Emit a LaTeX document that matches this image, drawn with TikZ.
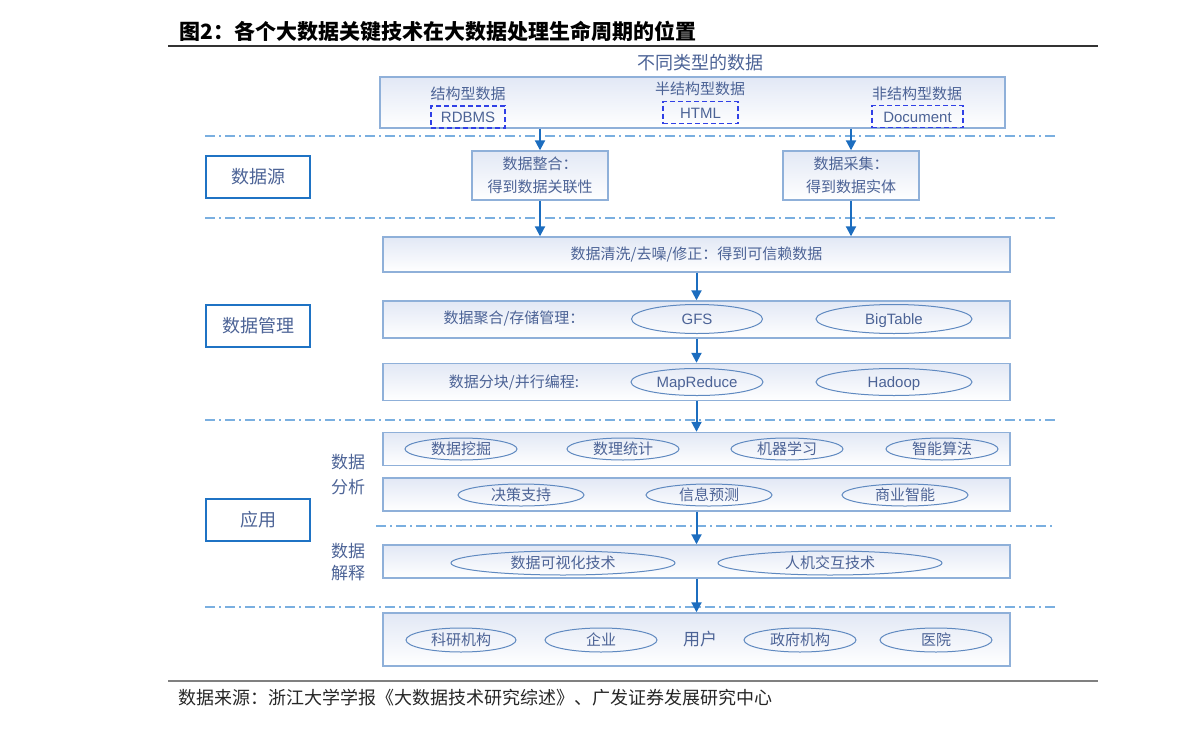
\documentclass[tikz,border=0pt]{standalone}
\usepackage{fontspec}
\usepackage{tikz}
\usetikzlibrary{shapes.geometric, arrows.meta, positioning}
\setmainfont{Liberation Sans}
\newfontfamily\cjk{Noto Sans CJK SC}
\definecolor{txtblue}{HTML}{4C6396}
\definecolor{boxline}{HTML}{8FB0D9}
\definecolor{boxtop}{HTML}{E2E8F5}
\definecolor{layerblue}{HTML}{1F73C4}
\definecolor{flowblue}{HTML}{1C6DBF}
\definecolor{sepblue}{HTML}{7AAFE0}
\definecolor{dashblue}{HTML}{3040E6}
\definecolor{ellline}{HTML}{5F89C0}

\begin{document}
\begin{tikzpicture}[x=1pt,y=-1pt,
  every node/.style={text=txtblue, font=\cjk\fontsize{15}{18}\selectfont},
  stage/.style={draw=boxline, line width=1.4pt, top color=boxtop, bottom color=white, minimum width=627pt, inner sep=0pt},
  layer/.style={draw=layerblue, line width=2pt, fill=white, minimum width=104pt, minimum height=42pt, inner sep=0pt, font=\cjk\fontsize{18}{20}\selectfont},
  tag/.style={draw=ellline, line width=1pt, ellipse, inner sep=0pt, minimum width=112pt, minimum height=22pt, text height=12pt, text depth=1pt},
  db/.style={draw=dashblue, dash pattern=on 5pt off 3pt, line width=1.2pt, minimum height=22pt, inner sep=0pt, text height=12pt, text depth=1pt, font=\fontsize{15}{18}\selectfont},
  flow/.style={draw=flowblue, line width=2pt, -{Triangle[length=10pt,width=10pt]}},
  sep/.style={draw=sepblue, line width=1.5pt, dash pattern=on 10pt off 4pt on 2pt off 4pt}]
  \useasboundingbox (0,0) rectangle (1191,728);

  % title and rules
  \node[anchor=west, text=black, font=\cjk\bfseries\fontsize{21}{24}\selectfont] (title) at (176,31) {图2：各个大数据关键技术在大数据处理生命周期的位置};
  \draw[line width=1.5pt, black!80] (168,46) -- (1098,46);
  \draw[line width=2pt, black!50] (168,681) -- (1098,681);
  \node[anchor=west, text=black!85, font=\cjk\fontsize{18}{20}\selectfont] (source) at (175,698) {数据来源：浙江大学学报《大数据技术研究综述》、广发证券发展研究中心};

  % separators
  \draw[sep] (205,136) -- (1055,136);
  \draw[sep] (205,218) -- (1055,218);
  \draw[sep] (205,420) -- (1055,420);
  \draw[sep] (376,526) -- (1055,526);
  \draw[sep] (205,607) -- (1055,607);

  % data types
  \node[font=\cjk\fontsize{18}{20}\selectfont] (typehead) at (700,63) {不同类型的数据};
  \node[stage, minimum width=625pt, minimum height=51pt] (types) at (692.5,102.5) {};
  \node (struct) at (468,94) {结构型数据};
  \node[db, minimum width=74pt] (rdbms) at (468,117) {RDBMS};
  \node (semi) at (700,89) {半结构型数据};
  \node[db, minimum width=75pt] (html) at (700.5,112.5) {HTML};
  \node (unstruct) at (917,94) {非结构型数据};
  \node[db, minimum width=91pt] (doc) at (917.5,116.5) {Document};

  % layers
  \node[layer] (src) at (258,176.5) {数据源};
  \node[layer] (mgmt) at (258,325.5) {数据管理};
  \node[layer] (app) at (258,520) {应用};

  % source stage
  \node[stage, minimum width=136pt, minimum height=49pt, align=center, font=\cjk\fontsize{15}{23}\selectfont] (integ) at (540,175.5) {数据整合：\\得到数据关联性};
  \node[stage, minimum width=136pt, minimum height=49pt, align=center, font=\cjk\fontsize{15}{23}\selectfont] (collect) at (851,175.5) {数据采集：\\得到数据实体};

  % management stage
  \node[stage, minimum height=35pt] (clean) at (696.5,254.5) {数据清洗/去噪/修正：得到可信赖数据};
  \node[stage, minimum height=37pt] (store) at (696.5,319.5) {};
  \node (storetxt) at (514,319) {数据聚合/存储管理：};
  \node[tag, minimum width=131pt, minimum height=29pt, font=\fontsize{15}{18}\selectfont] (gfs) at (697,319) {GFS};
  \node[tag, minimum width=156pt, minimum height=29pt, font=\fontsize{15}{18}\selectfont] (bigtable) at (894,319) {BigTable};
  \node[stage, minimum height=37pt] (compute) at (696.5,382) {};
  \node (computetxt) at (514,382) {数据分块/并行编程:};
  \node[tag, minimum width=132pt, minimum height=27pt, font=\fontsize{15}{18}\selectfont] (mapred) at (697,382) {MapReduce};
  \node[tag, minimum width=156pt, minimum height=27pt, font=\fontsize{15}{18}\selectfont] (hadoop) at (894,382) {Hadoop};

  % application stage
  \node[align=center, font=\cjk\fontsize{17}{25}\selectfont] (analysis) at (348,474.5) {数据\\分析};
  \node[stage, minimum height=33pt] (anaA) at (696.5,449) {};
  \node[tag] (mining) at (461,449) {数据挖掘};
  \node[tag] (stats) at (623,449) {数理统计};
  \node[tag] (ml) at (787,449) {机器学习};
  \node[tag] (algo) at (942,449) {智能算法};
  \node[stage, minimum height=33pt] (anaB) at (696.5,494.5) {};
  \node[tag, minimum width=126pt] (decision) at (521,495) {决策支持};
  \node[tag, minimum width=126pt] (predict) at (709,495) {信息预测};
  \node[tag, minimum width=126pt] (bi) at (905,495) {商业智能};
  \node[align=center, font=\cjk\fontsize{17}{22}\selectfont] (explain) at (348,562) {数据\\解释};
  \node[stage, minimum height=33pt] (interp) at (696.5,561.5) {};
  \node[tag, minimum width=224pt, minimum height=24pt] (visual) at (563,563) {数据可视化技术};
  \node[tag, minimum width=224pt, minimum height=24pt] (hci) at (830,563) {人机交互技术};

  % users
  \node[stage, minimum height=53pt] (users) at (696.5,639.5) {};
  \node[tag, minimum width=110pt, minimum height=24pt] (research) at (461,640) {科研机构};
  \node[tag, minimum height=24pt] (firm) at (601,640) {企业};
  \node[font=\cjk\fontsize{17}{20}\selectfont] (usertxt) at (700,639) {用户};
  \node[tag, minimum height=24pt] (gov) at (800,640) {政府机构};
  \node[tag, minimum height=24pt] (hospital) at (936,640) {医院};

  % flow
  \draw[flow] (integ.north |- types.south) -- (integ.north);
  \draw[flow] (collect.north |- types.south) -- (collect.north);
  \draw[flow] (integ.south) -- (integ.south |- clean.north);
  \draw[flow] (collect.south) -- (collect.south |- clean.north);
  \draw[flow] (clean.south) -- (store.north);
  \draw[flow] (store.south) -- (compute.north);
  \draw[flow] (compute.south) -- (anaA.north);
  \draw[flow] (anaB.south) -- (interp.north);
  \draw[flow] (interp.south) -- (users.north);
\end{tikzpicture}
\end{document}
